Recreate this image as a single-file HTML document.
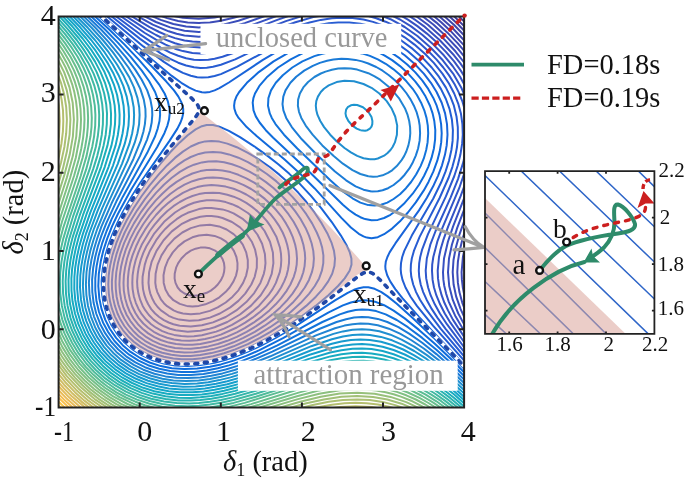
<!DOCTYPE html>
<html><head><meta charset="utf-8"><style>html,body{margin:0;padding:0;background:#fff;overflow:hidden}svg{display:block}</style></head>
<body><svg width="685" height="481" viewBox="0 0 685 481">
<defs>
<clipPath id="ax"><rect x="58.6" y="16.4" width="405.5" height="391.0"/></clipPath>
<clipPath id="inx"><rect x="485.0" y="171.2" width="169.4" height="162.7"/></clipPath>
</defs>
<rect width="685" height="481" fill="#fff"/>
<g clip-path="url(#ax)">
<g fill="none" stroke-width="2.0" stroke-linejoin="round">
<path stroke="#3e3b98" d="M456.5 14.1l10 9.7"/>
<path stroke="#3f3e9d" d="M451.8 14.1l14.7 14.2"/>
<path stroke="#3f41a3" d="M446.9 14.1l10 9.1 9.6 9.8"/>
<path stroke="#3e44a8" d="M441.9 14.1l12 10.7 12.6 13"/>
<path stroke="#3e46ac" d="M189.4 295.2l4.6 .5 4.8-.4 7.9-2.5 4.1-2.2 4-3.1 3-3 3.3-4.6 2.1-4.6 .9-3.5 .4-4.1-.5-4.6-1.5-4.2-2.1-3.5-2.6-2.8-3.2-2.3-4.7-2-4.8-.8-4.8 .1-4.7 1.1-4.8 2-4.8 3.2-4.6 4.6-3.2 4.6-2.1 4.6-1.4 6.1-.1 4.6 .9 4.5 2.2 4.6 2.6 3.1 4.2 2.9 4.9 1.7M436.8 14.1l15.4 13.7 14.3 15"/>
<path stroke="#3d47b0" d="M186.5 305.9l5.9 .5 6.4-.5 6.5-1.6 7.7-3.2 6.4-3.8 6.1-5.2 4.1-4.6 3.9-6.1 2.6-6.1 1.3-6.1 .1-6.1-1.1-6.1-2.5-6.1-3.1-4.6-4.7-4.6-5.2-3.3-6.3-2.5-7.9-1.1-7.9 .7-6.4 1.8-7.9 4.1-6.3 5-5.4 6-4.8 7.6-3 7.7-1.5 7.6 .2 7.6 1.8 6.7 3.2 5.7 4.7 4.9 6.4 3.7 6.7 2M466.5 261.3l-.6 12.5 .6 10.8M185.9 14.1l11.3 .6 12.9-.6M431.4 14.1l9.8 8.1 9.3 8.7 16 17.1"/>
<path stroke="#3c49b3" d="M182.9 313.5l7.9 .8 9.5-.9 9.6-2.5 7.8-3.5 8-4.9 6.9-5.8 5.8-6.4 4.7-7.4 3.1-7.6 1.6-7.6 0-7.7-1.6-7.6-3.4-7.7-4.4-6-4.8-4.6-7-4.6-7.5-3.1-9.2-1.6-9.6 .6-9.5 2.7-8.5 4.4-7.9 6.1-7.3 8.1-5.6 8.7-3.9 9.2-2 9.2-.3 9.1 .7 4.6 1.3 4.6 3.8 7.6 2.8 3.5 3.2 3 6.5 4.2 4.6 1.9 4.7 1.2M466.5 239.9l-3.6 17.1-1.3 15.2 .3 7.7 .9 7.6 1.5 7.7 2.2 8M166.7 14.1l8.3 2.1 7.9 1.5 15.9 1.1 15.8-1.2 17.7-3.5M425.7 14.1l10.7 8.5 10.8 9.8 10.4 10.7 8.9 10.3"/>
<path stroke="#3c4bb7" d="M179.1 319.6l10.2 1.2 9.5-.6 11.1-2.6 10-4.1 10.4-6.1 8.1-6.5 6.8-7.3 6.1-9.1 3.4-7.7 2.1-9.1 .1-9.2-1.9-9.2-3.2-7.6-5.5-8.1-6.3-6.2-8-5.4-9.5-4-4.7-1.2-6.4-.7-4.7 0-6.4 .7-9.5 2.7-9.5 4.7-9.5 7.2-8.2 8.8-7.1 10.7-4.8 10.7-2.6 10.6-.6 10.7 .7 6.2 1.1 4.5 1.8 4.6 2.4 4.6 3.1 4.2 3.4 3.4 7.7 5.4 4.7 2.1 5.7 1.7M466.5 226.2l-3.9 12.4-3 12.3-1.7 10.7-.6 10.6 .6 10.7 1.5 9.2 2.9 10.7 4.2 10.9M155.8 14.1l11.3 4 11.1 2.9 9.5 1.4 11.1 .6 11.1-.6 11-1.7 12.7-2.9 12.9-3.7M419.7 14.1l13.6 10.4 12 10.9 11.7 12.3 9.5 11.5"/>
<path stroke="#3a4dba" d="M179.7 325.7l11.1 .8 11.1-1.2 11.1-2.9 12.7-5.4 10.6-6.6 10-8.3 7.9-9 6.2-10.2 3.4-9.1 1-4.6 .7-6.1-.6-9.2-2.8-10.1-4.7-9.3-6.3-8.2-8-7.1-9.5-5.8-5.4-2.3-5.7-1.7-11.1-1.5-6.3 .2-6.3 1-11.1 3.7-5.7 2.9-5.4 3.5-6.4 5-4.7 4.5-4.8 5.4-4.5 6.1-6.6 11.4-2.9 6.9-1.9 6.1-2.2 12.2-.1 6.1 .5 6.2 1.4 6.1 1.6 4.5 2.2 4.6 3 4.8 3.9 4.4 4.1 3.5 4.7 3.2 4.8 2.3 4.7 1.7 6.3 1.5M466.5 214.5l-6.9 19.6-3.8 13.7-2.3 12.2-.8 12.2 .9 12.3 2.6 12.2 4.3 12.2 6 12.9M147.3 14.1l13.4 5.8 12.7 4.1 12.7 2.5 12.7 .9 12.6-.8 12.7-2.2 14.3-3.7 20.3-6.6M413.3 14.1l14.6 10.6 14.9 13.2 12.6 13.4 11.1 14.1"/>
<path stroke="#384fbe" d="M175.7 330.3l12 1.4 12.6-1 8-1.6 6.3-1.9 12.7-5.2 12.7-7.5 11.1-8.9 9.6-10.4 6.8-10.7 4.2-10.7 1.7-10.7-.5-10.7-2.9-10.7-5.4-10.7-7-9.2-4.6-4.6-5.1-4.2-9.5-6-6.4-2.8-6.3-2.1-6.3-1.3-6.4-.6-6.3 .1-6.4 .9-6.3 1.6-5.8 2.2-6.9 3.5-6.3 4-10.9 9.3-9.7 11.5-8 13-3.1 6.6-2.6 7.1-2 7.7-1 6.1-.6 7.6 .3 6.1 1 6.1 1.7 6.1 2.6 6.2 2.7 4.5 3.5 4.6 4.6 4.6 5.7 4.1 4.7 2.6 6.1 2.5 5.7 1.5M466.5 203.4l-9.3 24.5-5.3 16.8-2.9 13.8-1 13.7 1.2 13.8 3.5 13.7 5.6 13.8 8.2 15.3M140.2 14.1l15.8 7.9 14.2 5.4 14.3 3.4 14.3 1.1 14.2-.9 14.3-2.8 17.4-5.1 25.5-9M406.2 14.1l9.5 6.1 8.1 5.9 15.8 13.9 14.4 15.3 6.2 7.8 6.3 9.1"/>
<path stroke="#3751c1" d="M174 334.9l7.3 1.1 6.4 .4 6.3-.2 7.9-1 14.3-3.6 7.9-3 7.9-3.7 13.9-8.3 6.7-5.2 6.3-5.5 9.5-10.7 4.2-6.1 3.3-6.2 3.9-10.7 1.1-6.1 .4-6.1-.3-6.1-1-6.1-3.5-10.7-5.9-10.7-3.7-5.2-4.8-5.5-4.8-4.6-5.6-4.5-5.4-3.7-6.3-3.5-6.4-2.7-6.3-2-7.9-1.6-6.4-.4-7.9 .3-6.3 1.1-6.4 1.9-6.3 2.6-6.3 3.4-6.4 4.2-6.3 5.1-6.4 6.2-6.3 7.3-4.6 6.2-8.1 13.8-3.3 7.6-2.7 7.6-1.9 7.7-1.2 7.6-.3 7.6 .3 6.2 1.2 7.1 2 6.6 2.7 6.1 3.2 5.3 4.4 5.4 5 4.6 4.9 3.5 6.3 3.4 5.9 2.3 5.8 1.5M466.5 192.2l-13.4 34.2-5.2 15.3-3.9 16.8-1 13.7 .4 7.7 .9 6.1 1.8 7.6 2.5 7.7 7 15.3 10.9 18.3M133.8 14.1l19 10.5 15.9 6.7 7.9 2.5 7.9 1.7 14.3 1.3 14.2-1 17.5-3.8 15.8-5 35.4-12.9M398.3 14.1l9.6 5.5 9.5 6.5 9.5 7.5 9.5 8.5 9.5 9.8 8 9.3 6.9 9.4 5.7 9.2"/>
<path stroke="#3453c5" d="M174 339.5l7.3 1 8 .2 7.9-.5 7.9-1.2 7.9-1.9 7.9-2.5 15.9-7.1 8.4-4.8 7.4-5 7.3-5.7 6.7-6.1 5.7-6.2 4.8-6.1 4-6.1 3.1-6.1 2.4-6.1 1.5-6.1 .9-6.1 .1-6.1-.6-6.1-1.3-6.2-1.9-6.1-2.6-6.1-3.3-6.1-4.6-6.8-4.7-5.9-5.5-5.6-5.6-5-6.4-4.7-6.3-3.9-6.3-3.1-6.4-2.6-7.9-2.2-7.9-1.2-6.4-.3-7.9 .7-6.3 1.3-7.9 2.7-6.4 3.1-7.9 4.9-6.3 4.8-6.4 5.7-6.3 6.7-6.4 8-4.7 6.9-4.8 8-4 8.4-3.6 9.1-2.3 7.7-1.5 7.6-.8 7.7-.1 7.6 .8 7.6 1.3 6.1 2.3 6.8 3.2 6.5 3.3 5.1 4.6 5.4 4.8 4.3 5.7 4 5.8 3.1 7.5 2.8 6.9 1.8M466.5 180.4l-5.8 15.5-12.5 30.5-4.9 13.8-2.7 9.1-1.6 7.7-1.3 13.7 .3 7.7 1.1 7.6 2.5 9.2 2.8 7.6 3.6 7.6 4.9 9.2 13.6 20.8M128.1 14.1l21.5 13.1 9.6 4.8 7.9 3.4 7.9 2.7 9.5 2.4 7.9 1.1 7.9 .3 14.3-1.3 17.4-4.1 14.3-4.8 31.7-12.1 16-5.5M389.1 14.1l10.9 5.4 11.1 6.9 11.1 8.3 11.2 9.9 10.4 10.7 8.8 10.7 7.6 11 6.3 11.7"/>
<path stroke="#3155c8" d="M176.1 344.1l8.4 .7 7.9-.1 7.9-.8 9.6-1.8 9.4-2.6 8-2.9 9.5-4.3 7.9-4.2 8.8-5.4 8.5-6.1 7.4-6.2 6.3-6.1 5.5-6.1 5.6-7.6 3.6-6.1 3.4-7.7 1.8-6.1 1.1-6.1 .3-6.1-.6-7.6-1.2-6.2-2.4-7.6-3.4-7.6-3.4-6.1-4-6.2-5.6-6.9-4.9-5.3-6.6-6.1-7.5-5.8-6.3-4.1-7.3-3.8-7-3.1-7.9-2.5-8-1.5-7.9-.6-6.3 .3-7.9 1.4-6.4 2-7.9 3.5-6.3 3.6-8 5.7-6.3 5.5-7.9 8.1-6.4 7.6-6.3 8.8-5.2 8.5-4.7 9.2-3.8 9.2-2.5 7.6-2.1 9.2-1.1 7.6-.4 7.6 .3 7.7 1.3 7.6 2.2 7.7 2.5 6.1 3.5 6.1 4.7 6.1 4.5 4.6 5.7 4.6 6.2 3.7 6.3 2.9 8 2.6 7.4 1.5M466.5 166.6l-7.3 21.6-16.8 39.7-5.1 13.8-4 15.3-1.1 7.6-.2 6.1 .6 9.2 1.4 7.6 2.3 7.7 3.8 9.1 4.7 9.2 5.6 9.2 16.1 22.8M122.8 14.1l23.7 15.5 9.5 5.4 9.5 4.6 9.5 3.6 7.9 2.2 7.9 1.4 9.5 .6 6.4-.3 7.9-1 15.9-3.9 14.2-4.9 41.2-16.2 22.4-7M377.5 14.1l13 5.1 14.2 7.8 12.7 9 13.4 11.7 12 12.6 10.3 13.3 8.1 13.8 5.3 12.5"/>
<path stroke="#2e57cc" d="M182.8 348.6l8 .1 9.5-.9 8-1.4 9.5-2.4 9.5-3.2 9.5-4 9.8-5 9.2-5.4 9.9-6.8 7.8-6.1 6.8-6.1 7.3-7.7 4.9-6.1 5-7.6 3.7-7.6 2.1-6.2 1.3-6.1 .6-7.6-.4-6.1-1.4-7.7-2.3-7.6-3.3-7.6-4.2-7.7-5.1-7.6-5.8-7.3-6.3-6.8-6.3-5.9-8-6.3-7.9-5.2-7.9-4.4-7.9-3.5-7.9-2.7-8-1.7-7.9-.7-7.9 .3-6.4 1.1-7.9 2.4-7.9 3.6-7.9 4.8-6.4 4.7-7.9 7.1-6.5 6.7-7.7 9.3-6.5 9.1-6.2 10.1-5 9.7-4.5 10.7-2.9 9.2-1.9 7.9-1.3 8.9-.4 9.2 .5 7.6 1.3 7.6 2.2 7.7 3.3 7.6 3.7 6.1 4.7 6.1 5 5.1 6.4 4.9 6.3 3.7 7.1 3.2 7.2 2.2 7.9 1.6 7.8 .7M466.5 145.4l-3.1 16.5-5.4 17.2-7.3 18.2-15.1 33.7-5.3 13.7-3.5 13.8-1.1 12.2 .5 7.7 1.9 9.1 2.5 7.7 4.2 9.1 5.1 9.2 7 10.7 19.6 26.1M117.8 14.1l27.1 18.9 11.1 6.7 9.5 5 9.5 4 7.9 2.4 9.5 1.8 7.9 .5 12.7-1 14.3-3.4 14.2-5.1 35-14.6 18.9-7 17.8-5.2 17.1-3M357.7 14.1l9 1.5 9.5 2.6 9.4 3.5 8 3.8 9.3 5.4 8.2 5.5 8.4 6.7 9 8.1 7.9 8.2 6.9 8.1 5.8 7.9 5.5 8.9 4 7.8 3.7 9 2.6 9.2 1.6 8.7"/>
<path stroke="#2b59cf" d="M175.1 351.7l9.4 .7 9.5-.2 9.5-1.1 9.5-2 11.1-3.2 9.5-3.6 9.8-4.4 11.4-6.1 9.9-6.1 10.7-7.6 9.2-7.7 8-7.6 6.7-7.6 5.5-7.7 4.2-7.6 2.9-7.7 1.4-6.1 .6-7.6-.6-7.6-1.7-7.7-2.6-7.6-3.4-7.7-5.2-9.1-5.3-7.7-6.1-7.6-7.1-7.6-8.2-7.7-7.7-6.1-8.6-5.9-7.9-4.6-9.5-4.5-8-2.8-7.9-2-7.9-1-7.9 .1-6.4 1-7.9 2.3-6.3 2.7-7.9 4.5-8 5.8-7.9 7-7.9 8.2-7.9 9.4-7.5 10.4-6.7 10.7-4.9 9.1-4.9 10.7-3.8 10.7-2.4 9.2-1.6 9.1-.7 9.2 .2 7.7 .8 7.6 1.7 7.6 2.7 7.7 3.3 6.8 4.5 6.9 5 5.9 5.1 4.8 6 4.4 6.3 3.6 8 3.4 7.9 2.4 8 1.5M113.1 14.1l27 20.2 11.1 7.5 9.5 5.8 9.5 5 8 3.2 7.9 2.5 7.9 1.4 6.3 .4 8-.4 6.3-.9 7.9-2 15.9-5.6 39-17.3 21.2-8.1 11.1-3.3 11.1-2.6 11.1-1.6 9.5-.6 11.1 .3 11 1.5 9.6 2.4 11 4 10.2 5 10.4 6.4 9.8 7.3 10.4 9.2 8.9 9.1 8.6 10.7 6.7 10.1 5.1 9.8 4.2 10.7 2.5 9.2 1.5 10.7 .4 10.6-.7 9.2-1.7 10.7-2.6 10.7-3.5 10.7-8.4 20.4-17.9 37.7-5.8 15.2-2 7.7-1 6.1-.4 7.6 .4 6.1 1.5 7.7 2.5 7.6 3.4 7.6 5.1 9.2 6 9.2 7.9 10.7 20.9 26"/>
<path stroke="#275cd2" d="M171.3 354.7l10 1.2 9.5 0 9.5-.8 11.1-2 11.1-2.9 11.1-3.9 12.1-5.3 11.8-6.1 12.6-7.7 11-7.6 9.6-7.6 10.1-9.2 8.4-9.2 5.6-7.6 4.3-7.6 2.8-7.7 1.4-7.6 .1-7.7-1.2-7.6-2.2-7.6-3.2-7.7-4.7-9.1-5.8-9.2-6.8-9.2-7.3-8.4-7.9-8.1-7.9-7.1-9.5-7.4-9.5-6.4-9.5-5.4-9.5-4.5-9.5-3.3-8-1.8-7.9-.7-7.9 .6-6.3 1.4-8 3.1-6.3 3.4-6.3 4.2-8 6.4-9.5 9.2-7.9 8.8-7.9 10.1-7.9 11.5-6.4 10.5-5.9 11.4-4.5 10.7-3.8 11.2-2.2 8.7-1.6 9.1-.7 9.2 .1 7.7 1.1 9.1 1.7 7.4 2.7 7.9 2.9 6.1 3.9 6.4 4.8 6 5.9 5.9 5.8 4.6 7.3 4.5 6.8 3.2 7.4 2.5 9 2M108.7 14.1l31.4 24.8 20.6 14.5 9.5 5.5 8 3.8 7.9 2.8 7.9 1.8 6.3 .6 6.4-.2 6.3-.9 7.9-2 14.3-5.4 40.5-19.4 21.3-8.7 11.1-3.6 11.1-2.8 9.5-1.6 9.5-.9 11.1 0 11.1 1.3 11 2.6 9.6 3.3 9.5 4.5 11.1 6.6 11.1 8.2 9.5 8.5 9.5 10.1 7.2 9.2 6.9 10.7 4.6 9.2 3.5 9.1 2.6 10.7 1.3 10.7 .1 10.7-.9 9.2-1.7 9.1-2.9 10.7-3.7 10.7-9.1 20.5-20.1 39.1-5.6 13.8-2.1 7.6-.9 6.1-.2 6.1 .6 6.1 1.9 7.7 2.9 7.6 3.9 7.6 5.8 9.2 15 19.9 25.7 30.3"/>
<path stroke="#225ed4" d="M181.8 359.3l10.6 0 9.5-1 11.1-2 11.1-3 11.1-3.9 12.6-5.3 12.1-6.2 10.6-6.1 11.9-7.6 12.6-9.2 11.2-9.1 9.7-9.2 6.8-7.6 5.5-7.7 4-7.6 2.2-7.7 .6-7.6-1-7.6-2.3-7.7-4-9.1-6-10.7-7.1-10.7-8.2-10.7-8-9.2-9.1-9.2-9.7-8.7-9.5-7.6-11.1-7.8-11.1-6.7-11.1-5.6-9.5-3.6-7.9-2-8-.7-6.3 .5-6.3 1.6-8 3.5-7.9 5.1-7.9 6.3-7.9 7.5-7.9 8.5-9.6 11.4-7.9 10.7-7.9 12-7.1 12.3-5.6 11.3-4.8 11.6-3.9 12.2-2.4 10.7-1.3 9.2-.4 9.2 .5 9.1 1.2 7.7 2 7.6 2.9 7.7 4 7.6 4.1 6.1 5.2 6.1 5.6 5.3 6.3 4.7 8 4.6 7.9 3.3 7.9 2.4 9.5 1.9 8.4 .7M104.4 14.1l38.9 32.3 20.6 15.5 9.5 6.1 9.5 4.9 7.9 2.9 6.4 1.4 4.7 .4 6.4-.3 6.3-1.3 6.3-1.9 15.9-7.3 38.4-20.7 16.8-7.6 11.3-4.2 11.1-3.3 11.1-2.3 9.5-1.2 11.1-.3 11.1 1 11.1 2.3 9.5 3.2 10.6 4.8 10 5.9 9.5 6.9 9.9 8.6 9.1 9.5 7.9 10 6.1 9.5 5 10.1 3.6 9.8 2.4 10.7 1 10.7-.3 10.7-1.2 9.1-2.4 10.7-3.4 10.7-4.4 10.9-7.9 16.2-21.5 37.1-7.5 15.3-2.1 6.1-1.2 6.1-.3 6.1 .4 4.6 1.4 6.1 3 7.6 5.1 9.2 6.3 9.2 16.1 19.8 33.5 37.5"/>
<path stroke="#1964d9" d="M177.5 362.4l10.2 .3 11.1-.6 11.1-1.7 11-2.7 11.1-3.5 12.7-4.9 12.7-5.9 13.1-7 15.2-9.2 15.7-10.6 14.2-10.7 12.8-10.7 9.6-9.2 6.7-7.6 4.9-7.7 1.9-6.1-.1-6.1-1.6-6.1-3.5-7.7-5.4-9.1-9.3-13.8-10.4-13.7-10.2-12.2-11.4-12.3-10.5-10-11.1-9.6-11.1-8.6-12.7-9.1-14.2-9.2-11.1-6.3-9.5-4.2-6.4-1.6-6.3 0-4.8 1.2-6.3 3.2-7.9 5.8-7.9 7.2-9.6 9.9-9.5 11-11.1 14.1-9.5 13.4-7.9 12.3-6.4 11.1-6.2 12.2-4.7 10.7-3.8 10.7-3 10.7-2.1 10.7-.9 9.2-.1 9.1 .7 9.2 1.5 7.6 2.2 7.7 3.1 7.6 3.9 7.2 4.5 6.6 5.4 6.1 5.9 5.4 6.4 4.6 6.4 3.7 7.8 3.6 7.9 2.6 8 1.8 8.8 1.2M100.3 14.1l52.5 46.1 19 15.7 9.5 6.9 8 4.8 6.3 3 6.3 1.6 3.2 .2 4.8-.5 4.7-1.5 4.8-2.2 9.5-5.7 34-22.6 13.2-7.7 12.1-6.1 10.4-4.5 9.5-3.4 10-2.8 10.6-2 11.1-1 11.1 .3 11.1 1.7 11.1 3.1 11 4.6 9.9 5.6 10.7 7.6 9.5 8.2 9.6 10.1 7.1 9.2 5.7 9.2 5.1 10.7 3.4 10.7 1.9 10.7 .5 10.6-.8 10.7-1.7 9.2-3 10.7-4 10.5-4.3 9.4-6.8 12.5-7.9 12.7-23.5 32.8-5.9 9.2-2.2 4.6-1.6 4.6-.5 4.5 .2 3.1 1.7 6.1 3 6.1 5.1 7.7 7.1 9.1 16.3 18.4 47.8 50.6"/>
<path stroke="#1169db" d="M366.7 237.6l-3.2-1.2-4.7-2.6-7.9-6.3-9.5-9.6-26.9-29.7-14.3-14.4-15.9-14.5-27.4-23-10.2-9.2-8.1-9.2-2.7-4.5-1.5-4.6-.3-3.1 .6-4.6 1.7-4.5 2.8-4.6 7.7-9.2 11.9-10.7 14.8-10.7 15.5-9 14.2-6.4 15.9-5 9.5-1.9 9.5-1 9.5 0 7.9 .8 9.5 2 8 2.5 9.5 4.1 7.9 4.5 9.3 6.4 7.4 6.1 7.9 7.6 7.1 8.3 6 8.5 5.1 9 3.4 7.8 2.8 9.2 1.6 9.2 .6 9.1-.5 9.2-1.5 9.2-2.4 9.1-3.9 10.7-4.9 10.5-4.7 8.5-8 12-7.9 10.1-7.9 8.8-7.9 7.3-8 5.6-6.3 3-6.3 1-4.8-.6M96.3 14.1l34.9 32 20.2 19.9 14.7 15.3 7.9 9.1 4.4 6.2 3.2 6.1 1.6 6.1 0 4.6-1 4.5-1.7 4.6-3.1 6.1-7.9 12.3-29.4 42.1-9.5 15.2-7.9 14-5.5 11.2-4.7 10.7-4 10.6-3.1 10.7-2.7 13.8-1.1 12.2 .4 12.2 1.7 10.7 3.2 10.7 4.7 10.3 6.3 9.6 6.7 7.6 7.6 6.6 9.5 6.1 11.1 5.1 11.1 3.3 11.1 1.8 12.7 .6 12.6-.9 14.3-2.4 11.1-3 11.1-3.7 11.1-4.4 13.1-6 14.6-7.7 15.7-9.1 43.7-28.4 12.7-7.5 6.3-3.1 4.8-1.6 4.7-.9 4.8 0 6.3 1.5 6.4 3.1 6.3 4.2 9.5 7.7 15.9 14.1 20.6 19.5 33.2 33.6"/>
<path stroke="#106ddc" d="M365.1 219.1l-4.7-1.9-4.8-2.6-6.3-4.4-6.4-5.4-38-37.3-31.7-29.7-7.4-7.6-6.2-7.7-3.8-6.1-2.3-6.1-.8-7.6 .7-4.6 1.6-4.6 4.4-7.6 8-9.2 10.7-9.2 12.6-8.2 14.1-7.1 13.1-4.5 9.2-2.1 7.9-1.1 9.5-.3 8 .5 7.9 1.3 7.9 2.2 7.9 3 8.1 4.1 7.8 4.8 7.9 6 7.9 7.2 7.3 8 5.7 7.6 4.7 7.7 4.4 9.1 2.6 7.7 1.7 7.6 1 9.2-.2 9.1-1.2 9.2-2.3 9.2-3.3 9.1-4.3 9.2-5 8.7-6.3 9-8 9.2-7.9 7.4-6.3 4.5-6.4 3.2-6.3 1.9-6.3 .3-6.4-1.1M92.5 14.1l16.5 15.2 15.6 15.3 14.4 15.3 11.9 13.7 8.1 10.7 5.6 9.2 3.2 7.6 1.7 7.7 .2 4.6-.7 6.1-1.6 6.1-3 7.6-7.2 13.8-26.6 43.5-12.6 23.2-6 12.7-4.8 12.2-4 12.3-2.5 10.7-1.9 12.2-.5 12.2 1 12.2 2.2 10.7 3.7 10.7 4.6 9.2 6.3 9.1 6.6 7.3 7.9 6.7 9.5 6.1 9.5 4.5 11.1 3.6 11.1 2.1 12.7 .9 12.7-.5 12.7-1.8 11-2.4 12.7-3.8 12.7-4.7 13.2-5.7 24-12.3 45.2-25.6 14.2-6.9 8-2.9 6.3-1.5 6.3-.7 4.8 .2 7.9 1.6 7.9 3.1 9.5 5.4 11.1 7.8 14.3 11.5 15.8 13.9 15.9 15 15.8 16"/>
<path stroke="#1373db" d="M368.3 205.1l-7.9-2.5-7.9-4.3-9.6-6.9-12.6-11.2-33-31.7-13.3-13.8-8.5-10.6-3.7-6.2-2-4.5-1.8-7.7 .4-7.6 2.6-7.7 4.8-7.6 7-7.6 9.5-7.7 10.1-6.1 12-5.3 8-2.4 7.9-1.7 7.9-.9 7.9-.1 7.9 .8 8 1.6 7.9 2.5 7.9 3.5 7.9 4.4 7.5 5.3 6.8 5.7 6.4 6.5 6.3 7.5 4.2 6.2 4.2 7.7 3.2 7.6 2.2 7.6 1.3 7.7 .4 7.6-.6 9.2-1.4 7.6-2.4 8.4-3.2 7.7-4.5 8.4-5 7.5-5.1 6.2-6 6-6.4 4.8-6.3 3.6-6.3 2.2-6.4 .8-6.3-.5M88.7 14.1l16.1 15.2 13.5 13.8 12.4 13.7 11.1 13.8 7.4 10.7 5.9 10.7 3.3 9.1 1.5 7.7 .2 6.1-.6 6.1-1.8 7.6-2.6 7.7-8 16.8-24.4 43.8-11.1 22.2-5 11.9-4.5 12.4-3.4 12-2.1 10.7-1.3 12.3 0 12.2 1.2 10.7 2.5 10.7 4.1 10.7 4.9 9.1 6.5 9.2 6.6 7 8.1 6.7 9.4 6 9.5 4.5 11.1 3.6 11 2.3 11.1 1 12.7-.2 12.7-1.4 11.1-2.2 11.1-2.9 12.6-4.3 12.4-4.8 23-10.7 45.5-23.6 17.4-7.6 7.9-2.6 7.9-1.7 6.4-.6 6.3 .2 7.9 1.4 9.5 3.3 11.1 5.6 11.1 7.2 14.3 10.7 14.2 11.9 14.3 13 15.8 15.6"/>
<path stroke="#1b7bd7" d="M371.5 191.4l-8-1.7-7.9-3.4-9.5-6-11.1-8.8-17.4-16-15.8-16.2-10-12.2-5.6-9.2-2.8-7.6-.9-6.1 .8-7.6 2.2-6.2 4.9-7.6 5.8-6.1 8-6.1 8.6-4.8 7-2.9 7.3-2.1 6.3-1.3 8-.7 6.3 .1 7.8 1 6.5 1.5 6.3 2.1 7.9 3.5 6.4 3.7 6.3 4.5 6.3 5.3 6.4 6.6 4.7 5.9 4.4 6.6 3.2 6.1 2.6 6.1 2.2 7.7 1 6.1 .4 7.6-.5 7.7-1.5 7.6-2.3 7.1-2.9 6.6-3.5 6.2-4.7 6.3-4.7 5.1-6.4 5.2-5.5 3.2-5.5 2.1-4.8 1-6.3 .1M85 14.1l15.8 15.2 13 13.8 11.8 13.7 9.3 12.3 6.8 10.6 5.5 10.7 3.2 9.2 1.7 9.2 .2 6.1-.6 7.6-1.6 7.7-2.9 9.1-7.3 16.8-23.5 45.2-10.2 22.1-4.8 12.2-3.5 10.7-2.7 10.7-2 10.7-1.1 12.2 .2 12.2 1.3 10.7 2.6 10.7 4.1 10.7 5 9.2 6.3 8.9 6.4 6.9 8.1 7.1 9.3 6.1 9.5 4.8 11.1 3.9 11.1 2.5 11.1 1.3 12.6 .2 12.7-1.1 11.1-1.9 11.1-2.6 11.1-3.4 12.7-4.6 22.8-9.8 46.9-22.7 17.4-7 9.5-2.8 7.9-1.6 8-.6 6.3 .2 9.5 1.7 9.5 3.1 11.1 5.2 11.1 6.7 12.7 8.9 14.2 11.3 14.3 12.6 15.8 15.2"/>
<path stroke="#2184d3" d="M368.3 176.3l-7.9-2.3-7.9-3.9-9.6-6.4-9.2-7.6-11.4-10.7-9.7-10.7-6.9-9.1-4.4-7.7-2.3-6.1-1.1-6.1 .2-6.1 1.8-6.1 3.4-6.1 4.8-5.4 6.3-5 6.4-3.5 4.7-1.9 6.4-1.9 6.3-1.1 6.3-.3 6.4 .3 6.3 1 11.1 3.6 6.3 3.1 5.5 3.4 10.4 8.5 8.4 9.9 6.3 10.7 2.4 6.1 1.6 6.1 .9 6.1 .2 6.1-.6 6.1-1.3 6.1-2.1 6.1-2.2 4.6-2.9 4.6-4.4 5.4-4.7 4.2-4.1 2.6-5.4 2.4-4.8 1.1-4.7 .3-4.8-.4M81.4 14.1l14 13.7 12.8 13.8 11.4 13.7 8.9 12.2 6.6 10.7 5.2 10.7 3.5 10.7 1.6 9.2 .2 7.6-.7 7.7-1.5 7.6-2.7 9.2-7.4 18.3-21.7 44.1-10.1 23.1-4.1 11.4-3.5 11.5-2.5 10.7-1.7 10.7-.8 12.2 .6 12.3 1.6 10.7 2.9 10.7 4.4 10.6 5.2 9.2 5.6 7.7 7.2 7.8 7.9 6.7 9.5 6.3 9.5 4.8 11.1 4 11.1 2.7 11.1 1.4 11.1 .3 12.6-.7 11.1-1.6 11.1-2.4 12-3.4 11.8-4 24-9.7 45.7-20.9 19-7.2 9.5-2.6 8-1.4 7.9-.7 7.9 .2 9.5 1.6 11.1 3.4 11.1 5 11.1 6.3 12.7 8.5 14.2 11.1 14.3 12.4 14.2 13.4"/>
<path stroke="#208ed0" d="M369.9 159.3l-6.4-1.1-6.3-2.3-6.3-3.5-6.4-4.4-7.9-6.7-6.4-6.6-6.1-7.6-3.8-6.1-2.8-6.1-1.2-4.6-.5-4.6 .5-4.6 1.6-4.5 2.9-4.6 3.1-3.3 4.8-3.3 7.9-3.3 7.9-1.3 9.5 .5 9.5 2.7 8 3.8 7.9 5.7 7.3 7.6 5.1 7.7 3.4 7.7 2 9.1-.3 9.1-2 7.7-2.3 4.6-2.1 3-3.2 3.3-3.2 2.4-6.3 2.8-3.2 .7-4.7 .1M77.8 14.1l13.8 13.7 11.2 12.2 10 12.2 8.8 12.3 7.4 12.2 5 10.7 3.5 10.7 1.7 9.1 .4 7.7-.5 9.2-1.7 9.1-2.6 9.2-7 18.3-20.9 44.9-9.5 22.9-4 11.7-3.1 10.7-2.3 10.7-1.5 10.6-.6 12.3 .5 10.7 1.6 10.7 2.9 10.7 4.2 10.6 5 9.2 6.5 9.2 7 7.6 7.5 6.7 9.5 6.5 9.7 5.2 10.9 4.2 11.1 2.9 11.1 1.7 12.7 .7 12.7-.6 11.1-1.5 11-2.2 11.1-2.9 12.1-3.9 23.8-9.1 46.5-20.2 19-6.8 9.5-2.5 9.6-1.6 9.5-.5 7.9 .4 9.5 1.6 11.1 3.4 11.1 4.9 12.6 7 12.7 8.5 12.7 9.7 12.7 10.8 14.2 13.3"/>
<path stroke="#1c95cf" d="M360.4 130.2l-3.7-1.6-4.3-3-4-4.6-2.3-4.5-.6-3.1 .6-3.8 1.6-2.4 3.2-1.9 3.1-.6 3.2 .3 5.8 2.2 5.3 4.5 3.2 5.3 .9 4-.1 3.1-.8 2.5-1.6 2-2.5 1.6-2.3 .5-4.7-.5M74.3 14.1l13.5 13.7 11 12.2 9.8 12.2 8.4 12.3 6.3 10.7 4.9 10.7 3.5 10.7 2 10.6 .4 7.7-.4 9.2-1.5 9.1-2.8 10.7-7.4 19.9-19.9 44.6-8.4 21.1-4 12.2-2.8 10.7-2.2 10.7-1.3 10.7-.5 12.2 .7 10.7 1.7 10.7 3 10.7 4.3 10.6 5 9.2 6.5 9.2 7.5 8.2 8.1 7.1 9.4 6.4 9.5 5.1 11 4.4 11.1 3 11.1 1.8 12.7 .8 12.7-.4 11.1-1.3 11.1-2.1 11.1-2.7 12.6-3.9 21.9-8.1 46.3-19.2 20.6-7 11-2.7 9.6-1.5 9.5-.4 7.9 .4 11.1 1.9 11.1 3.4 11.1 4.8 11 5.9 12.7 8.2 12.7 9.4 12.7 10.6 14.2 13"/>
<path stroke="#189ace" d="M70.9 14.1l13.3 13.7 10.7 12.2 9.6 12.2 8.2 12.3 5.9 10.7 4.7 10.7 3.4 10.7 1.9 10.6 .4 9.2-.5 9.2-1.5 9.1-2.3 9.2-6.9 19.9-20.3 47.3-8 21.4-3.7 12.2-2.6 10.7-1.9 10.7-1 9.2-.3 12.2 1 12.2 2 10.7 3.3 10.7 4.6 10.7 5.3 9.2 6.8 9.2 7 7.5 8 6.9 9.5 6.5 9.5 5.1 11.1 4.5 11.1 3.1 11 2 12.7 .9 12.7-.2 9.5-1 11.1-1.8 11.1-2.5 12.7-3.6 22.1-7.7 49.2-19.6 20.6-6.6 9.5-2.2 9.5-1.5 9.5-.5 9.5 .4 11.1 1.9 11.1 3.2 11.1 4.5 11 5.8 12.7 7.9 12.7 9.2 12.7 10.3 14.2 12.9"/>
<path stroke="#16a0cc" d="M67.4 14.1l13.2 13.7 10.6 12.2 9.3 12.2 7.1 10.7 5.9 10.7 4.7 10.7 3.4 10.7 2 10.7 .6 9.2-.3 9.2-1.3 9.1-2.4 10.7-7.1 21.4-18.9 45.8-7.9 21.7-3.6 11.9-2.5 10.7-1.9 10.7-1 10.7-.1 12.3 1.1 12.2 2.2 10.7 3.3 10.7 4.7 10.7 5.4 9.1 6.6 9.1 7.2 7.7 8.7 7.6 9.5 6.5 9.5 5.1 11.1 4.6 11.1 3.2 11.1 2.1 12.6 1.1 12.7-.1 11.1-1 11.1-1.8 11.1-2.4 12.4-3.5 22.5-7.6 47.5-18.3 22.2-6.8 11-2.3 9.6-1.2 9.5-.4 9.5 .6 11.1 2 11 3.3 11.1 4.5 11.1 5.7 11.1 6.8 12.7 9 12.7 10.2 14.2 12.7"/>
<path stroke="#15a6c7" d="M64 14.1l11.7 12.2 10.5 12.2 9.4 12.2 7 10.7 6.7 12.2 4.5 10.7 3.3 10.7 1.9 10.7 .6 9.2-.2 9.2-1.5 10.6-2.3 10.7-7 21.4-18.3 45.9-7.5 21.4-3.5 12.2-2.4 10.7-1.7 10.7-.8 9.1-.1 12.3 .9 10.6 2.3 12.3 3.3 10.7 4.6 10.7 5.6 9.8 6.4 8.8 7.9 8.9 9.5 8.2 9.5 6.5 9.5 5.2 11.1 4.6 11.1 3.4 12.7 2.4 11.1 1 12.6 .1 11.1-.9 11.1-1.6 11.1-2.3 12.7-3.4 22.2-7.3 47.5-17.7 22.2-6.6 11.1-2.3 11.1-1.4 9.5-.3 9.5 .6 11.1 1.9 11 3.2 11.1 4.4 12.7 6.4 11.1 6.8 12.7 8.9 12.7 10.2 12.6 11.3"/>
<path stroke="#17abc1" d="M60.6 14.1l11.6 12.2 10.4 12.2 9.2 12.2 6.9 10.7 5.8 10.7 5.1 12.2 3.2 10.7 1.9 10.7 .6 9.2-.3 9.2-1.3 10.6-2.2 10.7-6.7 21.4-18.3 47.4-7.3 21.4-3.3 12.2-2.2 10.7-1.6 10.7-.7 9.2 .1 12.2 1 10.7 2.5 12.2 3.4 10.7 4.7 10.7 6.2 10.7 6.8 9.1 7.6 8.3 9.5 8.3 9.3 6.4 9.7 5.3 11.1 4.8 11.1 3.4 12.7 2.6 12.7 1.2 12.6 0 9.5-.6 11.1-1.5 11.1-2.2 12.7-3.2 22.2-7 49.1-17.7 22.2-6.4 11.1-2.1 11.1-1.3 9.5-.3 9.5 .7 11.1 1.8 11 3 12.7 5 11.1 5.5 11.1 6.7 12.7 8.8 12.7 10.1 12.6 11.1"/>
<path stroke="#1eafb9" d="M57.3 14.1l11.4 12.2 10.3 12.2 9.1 12.2 6.8 10.7 5.6 10.7 4.5 10.7 3.2 10.7 2.1 10.7 .7 9.2-.1 10.7-1.3 10.6-2.1 10.7-6.4 21.4-18 47.9-7.4 22.4-3.1 12.2-2.1 10.7-1.4 10.7-.6 9.2 .2 12.2 1.4 12.2 2.8 12.3 3.7 10.6 5 10.7 6.3 10.4 6.3 8.4 8.2 8.7 9.2 8 9.5 6.6 9.7 5.3 10.9 4.7 11.1 3.6 12.7 2.7 12.7 1.4 12.6 .2 9.5-.6 11.1-1.3 11.1-2.1 12.7-3 23.2-7.1 49.7-17.4 22.2-6.1 11.1-2.1 11.1-1.2 11-.2 9.6 .8 11 1.9 11.1 3.2 11.1 4.3 11.1 5.4 11.1 6.6 12.7 8.7 12.7 10 12.6 11"/>
<path stroke="#29b3b1" d="M56.2 16.4l11.7 12.9 8.8 10.7 7.7 10.7 6.7 10.7 5.6 10.7 4.3 10.7 3.2 10.7 2 10.7 .8 9.2-.2 10.7-1.1 10.6-2.1 10.7-2.8 10.7-3.8 12.3-17.4 47.3-6.9 21.4-3.1 12.2-2.1 10.7-1.3 10.7-.6 10.7 .4 12.2 1.6 12.3 2.9 12.2 3.8 10.7 5 10.7 5.6 9.1 7.7 10.3 7.9 8.4 9.5 8.2 9.5 6.6 11.1 6.1 11.1 4.7 11.1 3.5 12.7 2.6 12.7 1.4 12.6 .2 9.5-.5 11.1-1.3 11.1-2 12.7-3 22.2-6.6 49.1-16.8 23.8-6.4 11.1-2 11.1-1.1 11-.1 9.6 .7 11 1.9 11.1 3.1 11.1 4.2 11.1 5.3 11.1 6.5 11.1 7.5 11.1 8.4 13.4 11.3"/>
<path stroke="#35b6aa" d="M56.2 20l9.6 10.9 8.5 10.7 7.5 10.6 6.5 10.7 5.3 10.7 4.1 10.7 2.6 9.2 1.9 10.7 .8 9.2-.1 10.7-1.1 10.6-2 10.7-2.6 10.7-3.8 12.3-17.5 48.8-6.6 21.4-3 12.3-1.9 10.7-1.2 10.6-.5 9.2 .4 12.2 1.6 12.3 2.9 12.2 4.4 12.2 5.1 10.7 6.6 10.7 7.1 9.2 8.1 8.5 9.6 8.2 9.5 6.6 11.1 6.1 11 4.8 11.1 3.6 12.7 2.8 12.7 1.6 12.7 .3 9.5-.4 11.1-1.2 11-1.8 12.7-2.9 22.2-6.4 50.7-16.9 22.2-5.8 11.1-2 11.1-1.2 11.1-.3 9.5 .6 9.5 1.4 11.1 2.7 11.1 3.9 11 4.9 11.1 6 11.1 7.1 11.1 8.1 12.9 10.5"/>
<path stroke="#41b9a3" d="M56.2 23.8l8.7 10.1 8.2 10.7 7.1 10.7 6 10.7 4.3 9.2 3.9 10.7 2.4 9.1 1.8 10.7 .6 9.2-.2 10.7-1.2 10.7-2 10.7-5.9 21.4-17.1 48.8-6.5 21.4-2.9 12.3-1.9 10.7-1.2 10.6-.4 9.2 .4 12.2 1.6 12.3 2.8 12.2 4.1 11.8 5.3 11.1 6.4 10.7 7.4 9.7 7.9 8.6 9.5 8.4 9.5 6.8 11.1 6.5 11.1 5 12.6 4.3 12.7 3 12.7 1.7 12.7 .5 11.1-.4 11.1-1.2 11-1.8 12.7-2.8 22.2-6.3 50.7-16.5 22.2-5.7 11.1-1.9 11.1-1.1 11.1-.3 9.5 .7 11.1 1.7 9.5 2.3 11.1 3.7 9.5 4.2 11.1 5.8 11 6.9 11.1 7.9 10.6 8.3"/>
<path stroke="#4fbc9b" d="M56.2 27.6l8.8 10.9 6.7 9.2 5.9 9.1 5.8 10.7 4 9.2 3.3 9.2 2.3 9.1 1.8 10.7 .6 9.2-.2 10.7-1.1 10.7-1.9 10.7-6.2 22.9-16.3 47.3-6.4 21.4-2.9 12.3-1.8 10.7-1.2 10.6-.4 10.7 .5 12.3 1.8 12.2 3 12.2 4.4 12.2 5.2 10.7 6.5 10.7 7.9 10.3 7.9 8.5 9.9 8.7 10.7 7.6 11.1 6.3 11.1 5 12.6 4.2 12.7 2.9 12.7 1.7 12.7 .6 11.1-.4 11.1-1.2 11-1.8 12.7-2.7 22.2-6.2 49.1-15.7 23.8-6 11.1-1.8 11.1-1.1 11.1-.2 9.5 .6 11.1 1.7 9.5 2.3 9.5 3.1 9.5 3.9 11.1 5.6 9.5 5.7 9.5 6.4 11.2 8.5"/>
<path stroke="#5cbd94" d="M213.5 409.7l15.4-2.8 15.8-4 53.9-16.8 20.6-5.6 20.6-3.8 9.5-1 9.5-.3 11.1 .5 11.1 1.5 11.1 2.6 11.1 3.7 11 4.8 11.1 5.8 11.1 7 11.8 8.4M56.2 306l2 9 2.7 9.2 3.6 9.2 4.4 9.1 5.4 9.2 5.3 7.6 6.2 7.7 7.4 7.6 7.3 6.5 8 6.1 7.9 5.1 9.5 5.2 9.5 4.2 9.5 3.5 9.5 2.6 9.4 1.9M56.2 31.7l8.8 11.4 7.1 10.7 6.1 10.7 5 10.7 3.8 10.7 2.7 10.7 1.5 10.6 .6 10.7-.3 9.2-1 9.2-4 19.8-5.8 19.9-17.5 51.9-4.1 15.3-2.9 14.8"/>
<path stroke="#68bf8e" d="M229 409.7l22.1-5.6 45.9-14.3 20.6-5.6 11.1-2.3 11.1-1.8 9.5-.9 9.5-.3 11.1 .6 11.1 1.5 9.5 2.1 11.1 3.5 9.5 3.8 11.1 5.6 11.1 6.6 10.4 7.1M56.2 318.2l2.9 9 3.1 7.7 8 15.3 9.7 13.7 11.2 12.2 6.8 6.1 7.4 5.8 14.2 9.1 15.9 7.5 15.7 5.1M56.2 36l7.4 10.1 6.9 10.7 5.7 10.7 4 9.2 3.6 10.7 2.2 9.2 1.6 10.6 .5 10.7-.3 9.2-.9 9.2-1.8 10.7-2.5 10.7-5.8 19.8-14.8 44.3-5.8 21.3"/>
<path stroke="#75c089" d="M241.2 409.7l17.8-5 39.6-12.1 17.4-4.7 22.2-4.2 19-1.3 11.1 .4 9.5 1.1 11.1 2.3 9.5 2.7 9.5 3.6 11.1 5.2 9.5 5.3 10.5 6.7M56.2 327.1l5.9 13.9 7.9 13.7 9.1 12.3 10.3 11.1 11.1 9.5 12.7 8.8 14.3 7.6 14.3 5.7M56.2 40.6l7 10.1 5.5 9.2 5.4 10.7 3.6 9.1 2.9 9.2 2.3 10.7 1.2 9.2 .4 10.7-.4 9.1-1 9.2-1.8 10.7-2.5 10.7-4.8 16.8-12.6 38.2-5.2 17.1"/>
<path stroke="#81c084" d="M252.1 409.7l44.9-13.5 20.6-5.4 20.6-3.7 19-1.3 11.1 .5 9.5 1.1 9.5 1.8 9.5 2.7 9.5 3.4 9.5 4.2 9.5 5 8.6 5.2M56.2 334.5l6.2 12.6 7.6 12.2 8.3 10.7 9.6 10 11 9.6 11.1 7.8 11.1 6.4 13.1 5.9M56.2 45.5l5.4 8.3 5.2 9.1 4.4 9.2 3.5 9.2 2.7 9.1 2 9.2 1.1 9.2 .5 10.7-.4 9.1-1 9.2-3.8 19.9-5.6 19.8-14 43.3"/>
<path stroke="#8cc07f" d="M262.5 409.7l34.5-10.3 22.2-5.6 20.6-3.5 17.4-1 9.5 .3 9.5 1 9.5 1.7 7.9 2 8 2.6 9.5 3.8 17.4 9M56.2 341l5.8 10.7 7.1 10.7 7.2 9.2 8.6 9.1 9.3 8.3 11.1 8.3 11.1 6.8 11.1 5.6M56.2 50.7l5.4 9.2 4 7.6 3.9 9.2 2.7 7.6 2.1 7.7 1.7 9.1 1.1 9.2 .3 9.2-1.1 16.8-3.5 19.8-5.9 21.4-10.7 33.3"/>
<path stroke="#97c07b" d="M272.7 409.7l27.5-8 20.6-5 19-3.1 17.4-.9 17.4 1.1 15.9 3.1 15.8 5.2 16.2 7.6M56.2 346.8l5.6 9.5 6.3 9.1 7.1 8.7 7.9 8.4 8.2 7.4 9.8 7.6 10.5 6.9 9.9 5.3M56.2 56.5l7.9 15.6 5.4 15.3 3.2 15.3 1.2 16.8-1 16.8-3.2 18.3-5.2 19.9-8.3 26.4"/>
<path stroke="#a2c077" d="M283.1 409.7l23.4-6.5 17.4-3.8 17.5-2.6 15.8-.7 15.9 .9 14.2 2.5 14.3 4.2 14.2 6M56.2 352.2l5.5 8.7 6.7 9.1 6.8 7.9 7.2 7.4 8.6 7.6 7.9 6.2 8 5.3 9 5.3M56.2 62.9l6.2 13.8 4.4 13.7 2.6 13.8 1 15.3-.8 15.2-2.7 16.9-4 16.8-6.7 22.5"/>
<path stroke="#acc073" d="M294.2 409.7l18.6-4.7 15.9-3.2 14.2-1.8 14.3-.6 12.7 .7 12.7 1.8 12.6 3.2 13 4.6M56.2 357.2l5.5 8.2 5.9 7.7 12.7 13.7 14.3 12.3 16 10.6M56.2 70.3l4.8 12.5 3.3 12.2 1.9 12.2 .7 12.3-.7 13.7-1.8 13.8-3.3 15.2-4.9 18"/>
<path stroke="#b5bf6f" d="M306.4 409.7l12.8-2.8 12.7-2.2 12.6-1.4 11.1-.5 11.1 .4 11.1 1.3 11.1 2.3 10.2 2.9M56.2 362l10.6 14.1 11.5 12.3 12.7 11.1 14.7 10.2M56.2 79.1l3.1 9.8 2.3 10.7 1.4 10.7 .3 10.7-.4 10.7-1.5 12.2-2.3 12.2-2.9 12.3"/>
<path stroke="#bebf6c" d="M321.4 409.7l18.4-2.7 15.8-.8 15.9 .9 15.5 2.6M56.2 366.6l9.5 12.1 10.5 11.2 11.7 10.3 13 9.5M56.2 90.8l2.7 14.9 .9 15.3-.8 15.3-2.8 17.7"/>
<path stroke="#c7be68" d="M349.6 409.7l11.8 0M56.2 371l9.1 11.2 9.9 10.2 9.5 8.5 11.6 8.8M56.2 115.4l0 11.4"/>
<path stroke="#d0bd65" d="M56.2 375.3l7.9 9.4 7.9 8.2 9.5 8.7 10.4 8.1"/>
<path stroke="#d9bd61" d="M56.2 379.5l7.7 8.9 7.6 7.6 16.1 13.7"/>
<path stroke="#e2bc5d" d="M56.2 383.6l12.6 13.5 14.5 12.6"/>
<path stroke="#eabc59" d="M56.2 387.6l11 11.5 12 10.6"/>
<path stroke="#f2bd54" d="M56.2 391.5l8.8 9.1 10.1 9.1"/>
<path stroke="#f9c04d" d="M56.2 395.4l14.8 14.3"/>
<path stroke="#fcc547" d="M56.2 399.3l10.8 10.4"/>
<path stroke="#fbca42" d="M56.2 403.1l6.9 6.6"/>
</g>
<path d="M205.0,115.5 L199.0,110.3 198.8,111.3 198.6,111.8 198.0,113.4 197.2,114.8 197.1,114.9 196.1,116.4 195.6,117.1 195.0,117.9 194.0,119.2 193.9,119.5 192.6,121.0 192.4,121.2 191.4,122.5 190.8,123.1 190.1,124.1 189.3,125.0 188.8,125.6 187.7,126.9 187.5,127.1 186.2,128.6 186.1,128.7 184.9,130.2 184.5,130.6 183.6,131.7 182.9,132.4 182.2,133.2 181.3,134.2 180.9,134.7 179.8,136.1 179.6,136.3 178.3,137.8 178.2,138.0 177.0,139.3 176.6,139.8 175.7,140.9 175.0,141.7 174.4,142.4 173.4,143.6 173.1,143.9 171.9,145.4 171.8,145.5 170.6,147.0 170.2,147.4 169.3,148.5 168.7,149.3 168.1,150.0 167.1,151.2 166.8,151.6 165.6,153.1 165.5,153.2 164.4,154.6 163.9,155.2 163.2,156.1 162.3,157.2 161.9,157.7 160.7,159.2 160.7,159.2 159.5,160.7 159.2,161.2 158.4,162.2 157.6,163.3 157.2,163.8 156.0,165.3 156.0,165.3 154.9,166.8 154.4,167.4 153.7,168.4 152.8,169.5 152.6,169.9 151.4,171.4 151.2,171.7 150.3,172.9 149.6,173.8 149.2,174.5 148.1,176.0 148.1,176.0 147.0,177.5 146.5,178.3 145.9,179.1 144.9,180.5 144.8,180.6 143.8,182.1 143.3,182.8 142.7,183.6 141.7,185.1 141.7,185.2 140.7,186.7 140.1,187.5 139.6,188.2 138.6,189.7 138.6,189.8 137.6,191.3 137.0,192.3 136.6,192.8 135.7,194.3 135.4,194.8 134.7,195.9 133.8,197.3 133.7,197.4 132.8,198.9 132.2,199.8 131.9,200.4 130.9,202.0 130.6,202.5 130.0,203.5 129.1,205.0 129.1,205.2 128.2,206.6 127.5,207.9 127.4,208.1 126.5,209.6 125.9,210.7 125.7,211.1 124.8,212.7 124.3,213.6 124.0,214.2 123.2,215.7 122.7,216.6 122.4,217.2 121.6,218.8 121.1,219.7 120.9,220.3 120.1,221.8 119.5,223.0 119.4,223.4 118.6,224.9 118.0,226.3 117.9,226.4 117.2,227.9 116.5,229.5 116.4,229.8 115.9,231.0 115.2,232.5 114.8,233.5 114.6,234.1 113.9,235.6 113.3,237.1 113.2,237.4 112.7,238.6 112.2,240.2 111.6,241.6 111.6,241.7 111.1,243.2 110.5,244.7 110.0,246.2 110.0,246.3 109.5,247.8 109.1,249.3 108.6,250.9 108.5,251.4 108.2,252.4 107.7,253.9 107.3,255.4 106.9,257.0 106.9,257.3 106.6,258.5 106.2,260.0 105.9,261.6 105.6,263.1 105.3,264.6 105.3,264.7 105.0,266.1 104.8,267.7 104.6,269.2 104.3,270.7 104.2,272.2 104.0,273.8 103.8,275.3 103.7,276.8 103.7,277.1 103.6,278.4 103.5,279.9 103.5,281.4 103.5,282.9 103.4,284.5 103.5,286.0 103.5,287.5 103.6,289.1 103.6,290.6 103.7,291.3 103.8,292.1 103.9,293.6 104.1,295.2 104.3,296.7 104.5,298.2 104.7,299.7 105.0,301.3 105.3,302.6 105.3,302.8 105.7,304.3 106.0,305.9 106.4,307.4 106.8,308.9 106.9,309.0 107.3,310.4 107.8,312.0 108.3,313.5 108.5,313.8 108.9,315.0 109.5,316.6 110.0,317.8 110.2,318.1 110.9,319.6 111.6,321.1 111.6,321.2 112.3,322.7 113.2,324.2 113.2,324.3 114.0,325.7 114.8,327.0 114.9,327.2 115.9,328.8 116.4,329.5 116.9,330.3 118.0,331.8 118.0,331.8 119.1,333.4 119.5,334.0 120.3,334.9 121.1,335.9 121.5,336.4 122.7,337.8 122.9,337.9 124.3,339.5 124.3,339.5 125.8,341.0 125.9,341.1 127.3,342.5 127.5,342.6 129.0,344.1 129.1,344.1 130.6,345.4 130.8,345.6 132.2,346.7 132.7,347.1 133.8,347.9 134.8,348.6 135.4,349.1 137.0,350.2 137.0,350.2 138.6,351.2 139.4,351.7 140.1,352.2 141.7,353.1 141.9,353.2 143.3,354.0 144.8,354.7 144.9,354.8 146.5,355.6 148.0,356.3 148.1,356.3 149.6,357.0 151.2,357.7 151.5,357.8 152.8,358.3 154.4,358.9 155.7,359.3 156.0,359.4 157.6,359.9 159.2,360.4 160.7,360.9 160.7,360.9 162.3,361.3 163.9,361.7 165.5,362.0 167.1,362.4 167.2,362.4 168.7,362.6 170.2,362.9 171.8,363.2 173.4,363.4 175.0,363.6 176.6,363.7 178.2,363.9 179.0,363.9 179.8,364.0 181.3,364.0 182.9,364.1 184.5,364.1 186.1,364.2 187.7,364.2 189.3,364.1 190.8,364.1 192.4,364.0 193.7,363.9 194.0,363.9 195.6,363.8 197.2,363.6 198.8,363.5 200.3,363.3 201.9,363.1 203.5,362.9 205.1,362.6 206.6,362.4 206.7,362.4 208.3,362.1 209.9,361.8 211.4,361.5 213.0,361.1 214.3,360.9 214.6,360.8 216.2,360.4 217.8,360.0 219.4,359.6 220.4,359.3 220.9,359.2 222.5,358.7 224.1,358.3 225.7,357.8 225.7,357.8 227.3,357.3 228.9,356.8 230.5,356.3 230.5,356.3 232.0,355.7 233.6,355.2 234.9,354.7 235.2,354.6 236.8,354.0 238.4,353.4 238.9,353.2 240.0,352.8 241.5,352.2 242.8,351.7 243.1,351.5 244.7,350.9 246.3,350.2 246.4,350.2 247.9,349.5 249.5,348.8 249.9,348.6 251.1,348.1 252.6,347.4 253.2,347.1 254.2,346.6 255.8,345.9 256.4,345.6 257.4,345.1 259.0,344.3 259.5,344.1 260.6,343.5 262.1,342.7 262.6,342.5 263.7,341.9 265.3,341.1 265.5,341.0 266.9,340.2 268.3,339.5 268.5,339.4 270.1,338.5 271.1,337.9 271.6,337.6 273.2,336.8 273.8,336.4 274.8,335.9 276.4,335.0 276.5,334.9 278.0,334.0 279.1,333.4 279.6,333.1 281.2,332.2 281.7,331.8 282.7,331.2 284.2,330.3 284.3,330.2 285.9,329.3 286.7,328.8 287.5,328.3 289.1,327.3 289.1,327.2 290.7,326.3 291.5,325.7 292.2,325.3 293.8,324.2 293.9,324.2 295.4,323.2 296.2,322.7 297.0,322.2 298.5,321.1 298.6,321.1 300.2,320.0 300.8,319.6 301.8,319.0 303.1,318.1 303.3,317.9 304.9,316.8 305.3,316.6 306.5,315.7 307.5,315.0 308.1,314.6 309.6,313.5 309.7,313.5 311.3,312.3 311.8,312.0 312.8,311.2 313.9,310.4 314.4,310.1 316.0,308.9 316.0,308.9 317.6,307.8 318.1,307.4 319.2,306.6 320.2,305.9 320.8,305.4 322.2,304.3 322.4,304.2 323.9,303.0 324.2,302.8 325.5,301.8 326.3,301.3 327.1,300.6 328.3,299.7 328.7,299.4 330.2,298.2 330.3,298.2 331.9,297.0 332.2,296.7 333.4,295.7 334.2,295.2 335.0,294.5 336.1,293.6 336.6,293.2 338.0,292.1 338.2,292.0 339.8,290.7 340.0,290.6 341.4,289.4 341.9,289.1 342.9,288.2 343.8,287.5 344.5,286.9 345.7,286.0 346.1,285.6 347.6,284.5 347.7,284.4 349.3,283.1 349.5,282.9 350.9,281.8 351.5,281.4 352.5,280.6 353.4,279.9 354.0,279.4 355.4,278.4 355.6,278.2 357.2,277.0 357.4,276.8 358.8,275.8 359.7,275.3 360.4,274.8 362.0,273.8 362.1,273.8 363.5,273.0 365.1,272.4 365.7,272.2 366.7,272.0 L366.5,267.5 Q294.0,182.5 205.0,115.5 Z" fill="#dba49b" fill-opacity="0.55"/>
<path d="M98.6 14.1l20.7 18.3 43 39.5 29.2 26.2 5.6 6.1 1 1.5 1 3.1-.1 1.5-1 3.1-3 4.5-24.8 29.5-11 13.8-12.7 17.1-9.5 14-8.8 14.3-7.3 13.7-6.3 13.8-5.1 13.7-3.6 13.8-1.3 7.6-.8 6.1-.3 12.2 .4 6.1 .8 6.1 1.3 6.2 1.8 6.1 2.2 5.8 2.3 4.9 5.7 9.1 3.5 4.6 4.4 4.7 4.7 4.3 4.2 3.2 4.6 3.1 5.5 3.1 4.7 2.2 6.4 2.4 6.3 1.9 6.4 1.3 6.3 1 6.3 .4 12.7-.1 14.3-1.8 14.2-3.4 14.3-4.7 14.3-5.9 14.4-7.1 16.2-9.2 14.5-9.1 17.7-12.3 14.4-10.7 30.5-23.9 4.7-2.8 3.2-1 1.6-.1 3.2 1 1.6 .9 6.3 5.4 27.1 28.2 41 41.5 19 20" fill="none" stroke="#fff" stroke-width="3.4"/>
<path d="M98.6 14.1l20.7 18.3 43 39.5 29.2 26.2 5.6 6.1 1 1.5 1 3.1-.1 1.5-1 3.1-3 4.5-24.8 29.5-11 13.8-12.7 17.1-9.5 14-8.8 14.3-7.3 13.7-6.3 13.8-5.1 13.7-3.6 13.8-1.3 7.6-.8 6.1-.3 12.2 .4 6.1 .8 6.1 1.3 6.2 1.8 6.1 2.2 5.8 2.3 4.9 5.7 9.1 3.5 4.6 4.4 4.7 4.7 4.3 4.2 3.2 4.6 3.1 5.5 3.1 4.7 2.2 6.4 2.4 6.3 1.9 6.4 1.3 6.3 1 6.3 .4 12.7-.1 14.3-1.8 14.2-3.4 14.3-4.7 14.3-5.9 14.4-7.1 16.2-9.2 14.5-9.1 17.7-12.3 14.4-10.7 30.5-23.9 4.7-2.8 3.2-1 1.6-.1 3.2 1 1.6 .9 6.3 5.4 27.1 28.2 41 41.5 19 20" fill="none" stroke="#2048a8" stroke-width="3.6" stroke-linecap="round" stroke-dasharray="3 6.6"/>
</g>
<path d="M58.6,16.4H464.1V407.4H58.6ZM139.7 407.4v-5M139.7 16.4v5M58.6 94.6h5M464.1 94.6h-5M220.8 407.4v-5M220.8 16.4v5M58.6 172.8h5M464.1 172.8h-5M301.9 407.4v-5M301.9 16.4v5M58.6 251.0h5M464.1 251.0h-5M383.0 407.4v-5M383.0 16.4v5M58.6 329.2h5M464.1 329.2h-5" fill="none" stroke="#222" stroke-width="2"/>
<!-- gray box and connector -->
<rect x="257.8" y="154" width="66.4" height="50.4" fill="none" stroke="#a2a2a2" stroke-width="2.8" stroke-dasharray="5 3"/>
<!-- trajectories main -->
<path d="M198.4,274 C206,266 214,259 222,252 C228,247 234,242 240,237.5 C246,232 250,228 254,223.5 C260,216 267,207 274,200 C279,195 284,192 288,189 C294,185 300,180.5 304,177 C307,174 308.5,170.5 307.5,168 C306,166.5 303.5,168.5 300.5,171.5 C296,175.5 290,179.5 285,183 C283,184.5 281,186 279.5,187.5" fill="none" stroke="#2e8b6a" stroke-width="3.8" stroke-linecap="round" stroke-linejoin="round"/>
<path d="M218,255 C225,249 232,243 242,236" fill="none" stroke="#2e8b6a" stroke-width="5.5" stroke-linecap="round"/>
<path d="M246.5,232 L250,214.5 L255.5,221 L264.5,224.5 Z" fill="#2e8b6a"/>
<path d="M285.8,184.1 C292,178 300,176.5 306,175 C311,174 315,173 316.5,168 C317.5,164 316.5,160 319,158 C322,156.5 326,157 328,155 C331,152 334,147 337,143 C342,136 350,127 360,118 C380,100 420,59 464.6,15.2" fill="none" stroke="#cc1f1f" stroke-width="3.6" stroke-linecap="round" stroke-dasharray="3.3 7.2"/>
<path d="M399.5,84.5 L380.4,90 L386.5,93.5 L390.8,101.5 Z" fill="#cc1f1f"/>
<circle cx="464.6" cy="15.6" r="2.2" fill="#cc1f1f"/>
<!-- markers -->
<g fill="#fff" stroke="#111" stroke-width="2.4">
<circle cx="198.4" cy="274" r="3.4"/><circle cx="366.2" cy="265.9" r="3.4"/><circle cx="204.4" cy="110.7" r="3.4"/>
</g>
<!-- labels in plot -->
<g style="font-family:'Liberation Serif','Times New Roman',serif" fill="#111">
<text x="183" y="298.3" font-size="27.5">x<tspan font-size="19" dy="4">e</tspan></text>
<text x="353" y="302.6" font-size="27.5">x<tspan font-size="17" dy="3.8">u1</tspan></text>
<text x="154" y="110.5" font-size="27.5">x<tspan font-size="17" dy="3.6">u2</tspan></text>
</g>
<!-- annotation boxes -->
<rect x="200.5" y="23.8" width="200.7" height="30.2" fill="#fff"/>
<rect x="237.9" y="360.7" width="219.8" height="30.1" fill="#fff"/>
<g style="font-family:'Liberation Serif','Times New Roman',serif" fill="#999" font-size="28.5">
<text x="215.8" y="47.4">unclosed curve</text>
<text transform="translate(253.5 383.8) scale(1.014 1)">attraction region</text>
</g>
<g fill="none" stroke="#a0a0a0" stroke-width="3.2" stroke-linecap="round">
<path d="M205.6,43.6 L143.3,50.8 M166.8,35.4 Q152,46 143.3,50.8 Q155,55 168.8,60"/>
<path d="M330.5,349.9 L275.2,314.8 M301,316.8 Q286,314.8 275.2,314.8 Q284,324 289,336.5"/>
<path d="M329.9,185.4 L483.8,247.4 M465.2,226.6 Q472,240 483.8,247.4 Q468,249 454,249.9"/>
</g>
<!-- inset -->
<rect x="485.0" y="171.2" width="169.4" height="162.7" fill="#fff"/>
<g clip-path="url(#inx)">
<path d="M485,314.4L506.3,333.9M485,281.5L540.4,333.9M485,247.6L573.3,333.9M485,213L606.1,333.9M485,175.5L648.2,333.9M521.4,171.2L654.4,299M559.7,171.2L654.4,262M596.3,171.2L654.4,226.8M638.5,171.2L654.4,186.6" stroke="#2f66c8" stroke-width="1.5" fill="none"/>
<path d="M485,198 L625.8,333.9 L485,333.9 Z" fill="#dba49b" fill-opacity="0.55"/>
<path d="M539.6,270.4 C548,260 556,251 566,246 C580,239.5 600,236 618,233.5 C628,232 636,230 635,224 C633,217 624,206 618,204.5 C613,204 614,212 614.5,222 C614.5,232 611,240 604,247.5 C598,253 592,257 588,259.5" fill="none" stroke="#2e8b6a" stroke-width="4" stroke-linecap="round" stroke-linejoin="round"/>
<path d="M584.5,262 C555,269 510,298 489,340" fill="none" stroke="#2e8b6a" stroke-width="4" stroke-linecap="round"/>
<path d="M583.5,262.5 L591.5,248.5 L593,256 L600,262.5 Z" fill="#2e8b6a"/>
<path d="M573.2,237.5 C585,230 600,226 615,223 C625,221 635,219 641,215 C646,212 646,207 645,203" fill="none" stroke="#cc1f1f" stroke-width="3.4" stroke-linecap="round" stroke-dasharray="4 7"/>
<path d="M643,189 C643,184 645,180 651,179.5" fill="none" stroke="#cc1f1f" stroke-width="3.4" stroke-dasharray="5 3"/>
<path d="M643.5,191 L637.5,208 L645.5,203.5 L654.5,203.5 Z" fill="#cc1f1f"/>
</g>
<g fill="#fff" stroke="#111" stroke-width="2.4"><circle cx="539.6" cy="270.4" r="3.4"/><circle cx="566.6" cy="242" r="3.4"/></g>
<path d="M485.0,171.2H654.4V333.9H485.0Z M509.2,333.9v-2.5M557.6,333.9v-2.5M606,333.9v-2.5M509.2,171.2v2.5M557.6,171.2v2.5M606,171.2v2.5M654.4,217.7h-2.5M654.4,264.2h-2.5M654.4,310.7h-2.5M485.0,217.7h2.5M485.0,264.2h2.5M485.0,310.7h2.5" fill="none" stroke="#222" stroke-width="1.8"/>
<g style="font-family:'Liberation Serif','Times New Roman',serif" fill="#111">
<text x="512.5" y="274" font-size="29">a</text>
<text x="553" y="237.5" font-size="27.5">b</text>
<g font-size="21">
<text x="496.5" y="351.3">1.6</text><text x="544.5" y="351.3">1.8</text><text x="603.5" y="351.3">2</text><text x="642" y="351.3">2.2</text>
<text x="658.5" y="177">2.2</text><text x="659.8" y="224">2</text><text x="657.8" y="270.6">1.8</text><text x="657.8" y="314.6">1.6</text>
</g>
<!-- axis tick labels -->
<g font-size="30">
<text x="54" y="441" textLength="20" lengthAdjust="spacingAndGlyphs">-1</text>
<text x="137.3" y="441">0</text><text x="216" y="441">1</text><text x="300.8" y="441">2</text><text x="381" y="441">3</text><text x="460.8" y="441">4</text>
<text x="55.7" y="24.8" text-anchor="end">4</text><text x="55.7" y="102.3" text-anchor="end">3</text>
<text x="55.7" y="180.8" text-anchor="end">2</text><text x="55.7" y="259.6" text-anchor="end">1</text>
<text x="55.7" y="338.6" text-anchor="end">0</text><text x="35" y="416.3" textLength="21" lengthAdjust="spacingAndGlyphs">-1</text>
</g>
<text x="223" y="470.7" font-size="28.5"><tspan font-style="italic">δ</tspan><tspan font-size="18" dy="5">1</tspan><tspan dy="-5"> (rad)</tspan></text>
<text transform="translate(23,254.5) rotate(-90)" font-size="28.5"><tspan font-style="italic">δ</tspan><tspan font-size="18" dy="5">2</tspan><tspan dy="-5"> (rad)</tspan></text>
<!-- legend -->
<g font-size="29.6"><text transform="translate(547 73.6) scale(0.962 1)">FD=0.18s</text><text transform="translate(547 106.6) scale(0.962 1)">FD=0.19s</text></g>
</g>
<path d="M471.5,64.6H524" stroke="#2e8b6a" stroke-width="3.6"/>
<path d="M471.5,98.1H521" stroke="#cc1f1f" stroke-width="3.4" stroke-dasharray="7.2 3.2"/>
</svg></body></html>
